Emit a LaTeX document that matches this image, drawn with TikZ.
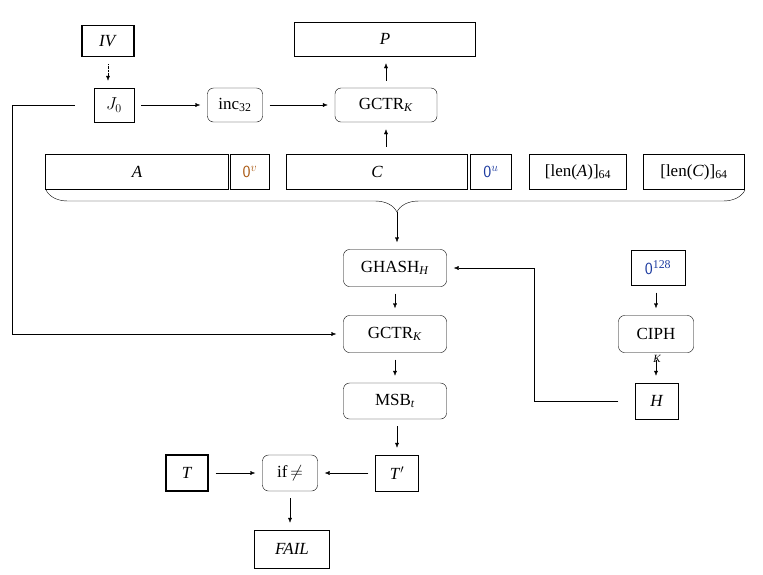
\documentclass[tikz,border=0pt]{standalone}
\usepackage{fontspec}
\setmainfont{Liberation Serif}
\usetikzlibrary{arrows.meta,decorations.pathreplacing}
\definecolor{zorange}{RGB}{170,90,20}
\definecolor{zblue}{RGB}{30,60,160}
\begin{document}
\begin{tikzpicture}[x=1pt,y=-1pt,font=\fontsize{17}{19}\selectfont,
  box/.style={draw,thin,inner sep=0pt,minimum width=#1},
  rbox/.style={box=#1,rounded corners=6pt},
  arr/.style={-{Latex[length=5pt,width=4pt]},thin,shorten >=7pt,shorten <=7pt}]
  \useasboundingbox (0,0) rectangle (763,574);

  \node[box=52,minimum height=31,very thick] (iv) at (108,41) {\textit{IV}};
  \node[box=40,minimum height=34] (j0) at (114,105) {$J_0$};
  \node[rbox=55,minimum height=34] (inc) at (235,105) {inc\textsubscript{32}};
  \node[rbox=102,minimum height=34] (gctr1) at (386,105) {GCTR\textsubscript{\textit{K}}};
  \node[box=181,minimum height=34] (p) at (385,39) {\textit{P}};

  \node[box=183,minimum height=35,very thick] (a) at (137,172) {\textit{A}};
  \node[box=39,minimum height=35] (zv) at (250,172) {\color{zorange}\sffamily 0$^v$};
  \node[box=181,minimum height=35,very thick] (c) at (377,172) {\textit{C}};
  \node[box=41,minimum height=35] (zu) at (491,172) {\color{zblue}\sffamily 0$^u$};
  \node[box=97,minimum height=35] (la) at (578,172) {[len(\textit{A})]\textsubscript{64}};
  \node[box=101,minimum height=35] (lc) at (694,172) {[len(\textit{C})]\textsubscript{64}};

  \coordinate (bl) at (46,190);
  \coordinate (br) at (745,190);
  \draw[decorate,decoration={brace,mirror,amplitude=22pt,aspect=0.502}] (bl) -- (br);
  \coordinate (tip) at (397,212);

  \node[rbox=103,minimum height=37] (gh) at (395,268) {GHASH\textsubscript{\textit{H}}};
  \node[rbox=103,minimum height=37] (gctr2) at (395,334) {GCTR\textsubscript{\textit{K}}};
  \node[rbox=103,minimum height=36] (msb) at (395,401) {MSB\textsubscript{\textit{t}}};
  \node[box=43,minimum height=36] (tp) at (397,473) {\textit{T}$'$};
  \node[rbox=55,minimum height=36] (ifne) at (290,473) {if\,$\neq$};
  \node[box=42,minimum height=36,very thick] (t) at (187,473) {\textit{T}};
  \node[box=75,minimum height=38] (fail) at (292,549) {\textit{FAIL}};

  \node[box=54,minimum height=35] (z128) at (658,268) {\color{zblue}\sffamily 0\textsuperscript{\rmfamily 128}};
  \node[rbox=75,minimum height=37] (ciph) at (656,334) {CIPH};
  \node[box=43,minimum height=36] (h) at (657,401) {\textit{H}};
  \node[font=\fontsize{11}{12}\selectfont\itshape,inner sep=0pt] (k) at (657,359) {K};

  \draw[arr,densely dotted] (iv) -- (iv |- j0.north);
  \draw[arr] (j0) -- (inc);
  \draw[arr] (inc) -- (gctr1);
  \draw[arr] (gctr1) -- (p.south -| gctr1);
  \draw[arr] (c.north -| gctr1) -- (gctr1);
  \draw[arr,shorten <=0pt] (tip) -- (tip |- gh.north);
  \draw[arr] (gh) -- (gctr2);
  \draw[arr] (gctr2) -- (msb);
  \draw[arr] (msb.south -| tp) -- (tp);
  \draw[arr] (t) -- (ifne);
  \draw[arr] (tp) -- (ifne);
  \draw[arr] (ifne) -- (ifne |- fail.north);
  \draw[arr] (z128.south -| ciph) -- (ciph);
  \draw[arr] (ciph) -- (ciph |- h.north);
  \coordinate (hc) at (534,401);
  \coordinate (gc) at (534,268);
  \draw[arr] (h.west) ++(-10,0) -- (hc) -- (gc) -- (gh.east);
  \coordinate (jl) at (12,105);
  \coordinate (jb) at (12,334);
  \draw[arr] (j0.west) ++(-12,0) -- (jl) -- (jb) -- (gctr2.west);
\end{tikzpicture}
\end{document}
